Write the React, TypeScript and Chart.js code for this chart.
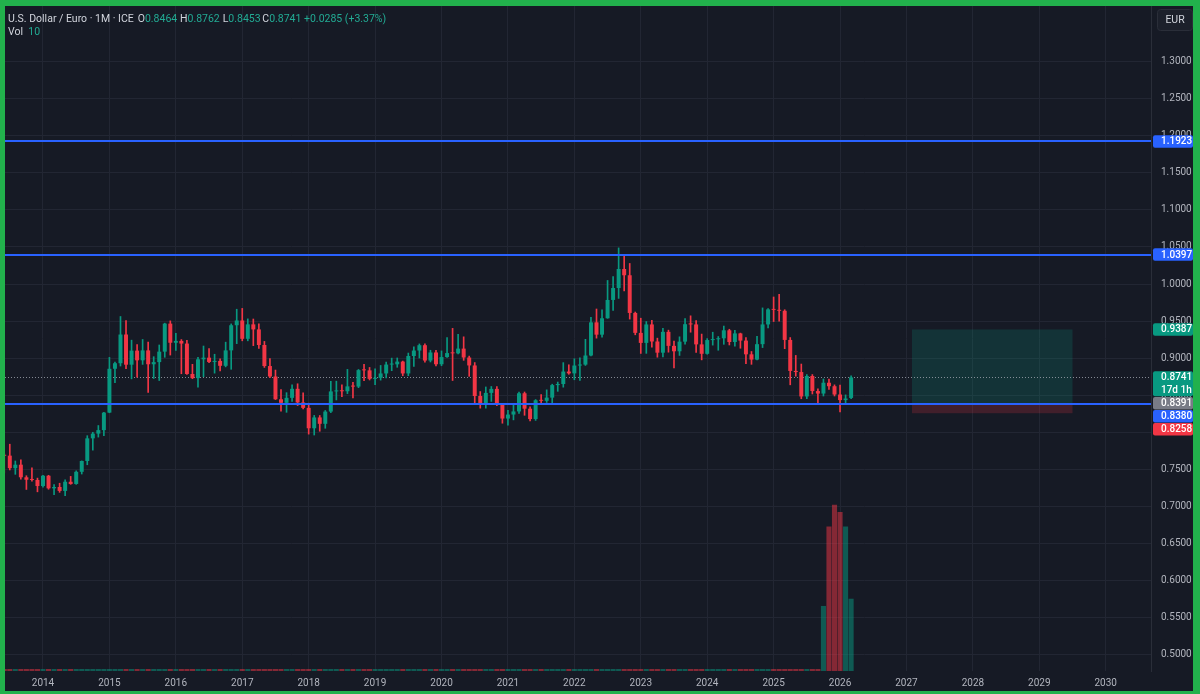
import React, { useEffect, useRef } from "react";
import { Chart, registerables } from "chart.js";

Chart.register(...registerables);

// ---------- DATA ----------
// Monthly candles of USD/EUR, June 2013 … March 2026. Month index 0 = Jan 2014.
const FIRST_MONTH_INDEX = -7;

const OPEN = [
  0.7693, 0.7686, 0.7517, 0.7564, 0.7394, 0.7361, 0.7358,
  0.7276, 0.7415, 0.7245, 0.7263, 0.7210, 0.7334, 0.7304, 0.7468, 0.7614, 0.7919, 0.7983, 0.8030,
  0.8266, 0.8857, 0.8932, 0.9319, 0.8912, 0.9102, 0.8971, 0.9105, 0.8918, 0.8947, 0.9088, 0.9466,
  0.9208, 0.9233, 0.9197, 0.8787, 0.8731, 0.8985, 0.9007, 0.8949, 0.8963, 0.8897, 0.9105, 0.9444,
  0.9508, 0.9261, 0.9456, 0.9388, 0.9178, 0.8894, 0.8753, 0.8446, 0.8398, 0.8465, 0.8587, 0.8403,
  0.8330, 0.8055, 0.8201, 0.8115, 0.8280, 0.8552, 0.8559, 0.8554, 0.8620, 0.8617, 0.8839, 0.8836,
  0.8721, 0.8735, 0.8794, 0.8914, 0.8917, 0.8954, 0.8794, 0.9029, 0.9103, 0.9175, 0.8968, 0.9077,
  0.8918, 0.9015, 0.9069, 0.9065, 0.9129, 0.9009, 0.8902, 0.8490, 0.8378, 0.8532, 0.8586, 0.8384,
  0.8186, 0.8240, 0.8282, 0.8527, 0.8319, 0.8179, 0.8433, 0.8425, 0.8468, 0.8637, 0.8652, 0.8820,
  0.8795, 0.8901, 0.8913, 0.9036, 0.9483, 0.9317, 0.9538, 0.9785, 0.9946, 1.0202, 1.0118, 0.9610,
  0.9341, 0.9206, 0.9455, 0.9225, 0.9074, 0.9355, 0.9166, 0.9093, 0.9223, 0.9458, 0.9455, 0.9186,
  0.9059, 0.9244, 0.9255, 0.9268, 0.9376, 0.9218, 0.9334, 0.9237, 0.9052, 0.8981, 0.9189, 0.9455,
  0.9658, 0.9651, 0.9639, 0.9246, 0.8828, 0.8813, 0.8484, 0.8760, 0.8557, 0.8523, 0.8669, 0.8622,
  0.8510, 0.8435, 0.8464,
];

const HIGH = [
  0.7719, 0.7840, 0.7614, 0.7631, 0.7415, 0.7521, 0.7383,
  0.7419, 0.7421, 0.7297, 0.7314, 0.7359, 0.7406, 0.7481, 0.7615, 0.7955, 0.8001, 0.8092, 0.8270,
  0.9011, 0.8949, 0.9562, 0.9506, 0.9243, 0.9185, 0.9252, 0.9217, 0.9020, 0.9178, 0.9472, 0.9503,
  0.9336, 0.9251, 0.9240, 0.8917, 0.9011, 0.9164, 0.9131, 0.9053, 0.8991, 0.9216, 0.9462, 0.9660,
  0.9671, 0.9530, 0.9528, 0.9462, 0.9226, 0.8994, 0.8840, 0.8575, 0.8535, 0.8640, 0.8655, 0.8534,
  0.8393, 0.8228, 0.8227, 0.8295, 0.8688, 0.8690, 0.8639, 0.8849, 0.8676, 0.8848, 0.8916, 0.8875,
  0.8858, 0.8902, 0.8948, 0.9001, 0.9003, 0.8961, 0.9069, 0.9152, 0.9192, 0.9192, 0.9107, 0.9107,
  0.9098, 0.9278, 0.9402, 0.9322, 0.9288, 0.9028, 0.8941, 0.8550, 0.8612, 0.8618, 0.8618, 0.8386,
  0.8296, 0.8367, 0.8544, 0.8544, 0.8343, 0.8442, 0.8509, 0.8573, 0.8649, 0.8678, 0.8940, 0.8911,
  0.8992, 0.9004, 0.9254, 0.9551, 0.9663, 0.9653, 1.0048, 1.0100, 1.0487, 1.0382, 1.0277, 0.9622,
  0.9539, 0.9494, 0.9509, 0.9270, 0.9403, 0.9378, 0.9230, 0.9288, 0.9535, 0.9571, 0.9508, 0.9325,
  0.9264, 0.9350, 0.9292, 0.9433, 0.9390, 0.9374, 0.9338, 0.9279, 0.9090, 0.9293, 0.9678, 0.9668,
  0.9825, 0.9861, 0.9653, 0.9278, 0.9037, 0.8921, 0.8778, 0.8779, 0.8587, 0.8720, 0.8719, 0.8640,
  0.8636, 0.8505, 0.8762,
];

const LOW = [
  0.7454, 0.7493, 0.7434, 0.7370, 0.7230, 0.7342, 0.7198,
  0.7260, 0.7233, 0.7160, 0.7191, 0.7146, 0.7299, 0.7299, 0.7438, 0.7563, 0.7760, 0.7936, 0.7955,
  0.8264, 0.8670, 0.8894, 0.8857, 0.8721, 0.8744, 0.8916, 0.8537, 0.8726, 0.8699, 0.9012, 0.9042,
  0.9103, 0.8790, 0.8781, 0.8723, 0.8609, 0.8750, 0.8940, 0.8798, 0.8828, 0.8883, 0.8850, 0.9196,
  0.9234, 0.9234, 0.9169, 0.9132, 0.8875, 0.8737, 0.8442, 0.8285, 0.8270, 0.8418, 0.8361, 0.8317,
  0.7976, 0.7964, 0.8015, 0.8055, 0.8266, 0.8437, 0.8481, 0.8522, 0.8464, 0.8602, 0.8696, 0.8706,
  0.8643, 0.8704, 0.8735, 0.8831, 0.8877, 0.8763, 0.8763, 0.8890, 0.9002, 0.8945, 0.8949, 0.8897,
  0.8898, 0.9011, 0.8699, 0.9058, 0.8971, 0.8755, 0.8397, 0.8326, 0.8326, 0.8417, 0.8358, 0.8123,
  0.8098, 0.8168, 0.8256, 0.8230, 0.8153, 0.8161, 0.8397, 0.8403, 0.8397, 0.8553, 0.8609, 0.8783,
  0.8709, 0.8699, 0.8902, 0.9029, 0.9270, 0.9282, 0.9537, 0.9645, 0.9806, 0.9907, 0.9527, 0.9315,
  0.9064, 0.9065, 0.9149, 0.9013, 0.9016, 0.9081, 0.8868, 0.9037, 0.9189, 0.9350, 0.9077, 0.8977,
  0.9053, 0.9176, 0.9107, 0.9187, 0.9178, 0.9161, 0.9134, 0.8927, 0.8917, 0.8977, 0.9143, 0.9407,
  0.9494, 0.9498, 0.9128, 0.8641, 0.8757, 0.8453, 0.8453, 0.8517, 0.8391, 0.8490, 0.8580, 0.8490,
  0.8277, 0.8395, 0.8453,
];

const CLOSE = [
  0.7686, 0.7517, 0.7564, 0.7394, 0.7361, 0.7358, 0.7276,
  0.7415, 0.7245, 0.7263, 0.7210, 0.7334, 0.7304, 0.7468, 0.7614, 0.7919, 0.7983, 0.8030, 0.8266,
  0.8857, 0.8932, 0.9319, 0.8912, 0.9102, 0.8971, 0.9105, 0.8918, 0.8947, 0.9088, 0.9466, 0.9208,
  0.9233, 0.9197, 0.8787, 0.8731, 0.8985, 0.9007, 0.8949, 0.8963, 0.8897, 0.9105, 0.9444, 0.9508,
  0.9261, 0.9456, 0.9388, 0.9178, 0.8894, 0.8753, 0.8446, 0.8398, 0.8465, 0.8587, 0.8403, 0.8330,
  0.8055, 0.8201, 0.8115, 0.8280, 0.8552, 0.8559, 0.8554, 0.8620, 0.8617, 0.8839, 0.8836, 0.8721,
  0.8735, 0.8794, 0.8914, 0.8917, 0.8954, 0.8794, 0.9029, 0.9103, 0.9175, 0.8968, 0.9077, 0.8918,
  0.9015, 0.9069, 0.9065, 0.9129, 0.9009, 0.8902, 0.8490, 0.8378, 0.8532, 0.8586, 0.8384, 0.8186,
  0.8240, 0.8282, 0.8527, 0.8319, 0.8179, 0.8433, 0.8425, 0.8468, 0.8637, 0.8652, 0.8820, 0.8795,
  0.8901, 0.8913, 0.9036, 0.9483, 0.9317, 0.9538, 0.9785, 0.9946, 1.0202, 1.0118, 0.9610, 0.9341,
  0.9206, 0.9455, 0.9225, 0.9074, 0.9355, 0.9166, 0.9093, 0.9223, 0.9458, 0.9455, 0.9186, 0.9059,
  0.9244, 0.9255, 0.9268, 0.9376, 0.9218, 0.9334, 0.9237, 0.9052, 0.8981, 0.9189, 0.9455, 0.9658,
  0.9651, 0.9639, 0.9246, 0.8828, 0.8813, 0.8484, 0.8760, 0.8557, 0.8523, 0.8669, 0.8622, 0.8510,
  0.8435, 0.8456, 0.8741,
];

// Volume (only the last months carry volume on this feed; others are 0)
const VOLUME_MONTH_INDEX = [141, 142, 143, 144, 145, 146];
const VOLUME = [9, 20, 23, 22, 20, 10];

// Axis ticks
const YEAR_TICKS = [0, 12, 24, 36, 48, 60, 72, 84, 96, 108, 120, 132, 144, 156, 168, 180, 192];
const YEAR_LABELS = ["2014", "2015", "2016", "2017", "2018", "2019", "2020", "2021", "2022", "2023", "2024", "2025", "2026", "2027", "2028", "2029", "2030"];
const PRICE_TICKS = [0.5, 0.55, 0.6, 0.65, 0.7, 0.75, 0.8, 0.85, 0.9, 0.95, 1.0, 1.05, 1.1, 1.15, 1.2, 1.25, 1.3];

// Horizontal levels and the long-position tool
const LEVELS = [1.1923, 1.0397, 0.838];
const POS_START = 157;
const POS_END = 186;
const POS_TARGET = 0.9387;
const POS_ENTRY = 0.8391;
const POS_STOP = 0.8258;
const LAST_PRICE = 0.8741;
const COUNTDOWN = "17d 1h";

// Header texts
const TITLE = "U.S. Dollar / Euro · 1M · ICE";
const OHLC_LABELS = ["O", "H", "L", "C"];
const OHLC_VALUES = ["0.8464", "0.8762", "0.8453", "0.8741"];
const CHANGE_TEXT = "+0.0285 (+3.37%)";
const VOL_TEXT = "10";

// ---------- STYLE ----------
const X_MIN = -6.865;
const X_MAX = 200.18;
const Y_MIN = 0.47823;
const Y_MAX = 1.37483;
const VOL_MAX = 92;

const BG = "#161a25";
const GREEN_FRAME = "#22b14c";
const GRID = "#222633";
const TEXT = "#b2b5be";
const UP = "#089981";
const DOWN = "#f23645";
const UP_VOL = "rgba(8,153,129,0.5)";
const DOWN_VOL = "rgba(242,54,69,0.5)";
const BLUE = "#2962ff";
const GRAY_LABEL = "#787b86";
const FONT = "Roboto, 'Noto Sans', sans-serif";

const monthX = (i: number) => FIRST_MONTH_INDEX + i;
const isUp = (i: number) => CLOSE[i] >= OPEN[i];

const overlayPlugin = {
  id: "overlay",
  beforeDatasetsDraw(chart: any) {
    const { ctx, chartArea: a, scales } = chart;
    const xs = scales.x;
    const ys = scales.y;
    ctx.save();
    ctx.beginPath();
    ctx.rect(a.left, a.top, a.right - a.left, a.bottom - a.top);
    ctx.clip();
    // position tool
    const x0 = xs.getPixelForValue(POS_START);
    const x1 = xs.getPixelForValue(POS_END);
    const yT = ys.getPixelForValue(POS_TARGET);
    const yE = ys.getPixelForValue(POS_ENTRY);
    const yS = ys.getPixelForValue(POS_STOP);
    ctx.fillStyle = "rgba(8,153,129,0.2)";
    ctx.fillRect(x0, yT, x1 - x0, yE - yT);
    ctx.fillStyle = "rgba(242,54,69,0.2)";
    ctx.fillRect(x0, yE, x1 - x0, yS - yE);
    ctx.strokeStyle = "rgba(190,190,200,0.7)";
    ctx.lineWidth = 1;
    ctx.beginPath();
    ctx.moveTo(x0, Math.round(yE) + 0.5);
    ctx.lineTo(x1, Math.round(yE) + 0.5);
    ctx.stroke();
    // last price dotted line
    const yL = Math.round(ys.getPixelForValue(LAST_PRICE)) + 0.5;
    ctx.setLineDash([1, 2]);
    ctx.strokeStyle = "rgba(160,165,175,0.8)";
    ctx.beginPath();
    ctx.moveTo(a.left, yL);
    ctx.lineTo(a.right, yL);
    ctx.stroke();
    ctx.restore();
  },
  afterDatasetsDraw(chart: any) {
    const { ctx, chartArea: a, scales } = chart;
    ctx.save();
    ctx.strokeStyle = BLUE;
    ctx.lineWidth = 2;
    LEVELS.forEach((p) => {
      const y = Math.round(scales.y.getPixelForValue(p));
      ctx.beginPath();
      ctx.moveTo(a.left, y);
      ctx.lineTo(a.right, y);
      ctx.stroke();
    });
    ctx.restore();
  },
  afterDraw(chart: any) {
    const { ctx, chartArea: a, scales, width } = chart;
    const ys = scales.y;
    ctx.save();
    // price-scale labels
    const labels = [
      { p: LEVELS[0], c: BLUE, lines: [LEVELS[0].toFixed(4)] },
      { p: LEVELS[1], c: BLUE, lines: [LEVELS[1].toFixed(4)] },
      { p: POS_TARGET, c: UP, lines: [POS_TARGET.toFixed(4)] },
      { p: LAST_PRICE, c: UP, lines: [LAST_PRICE.toFixed(4), COUNTDOWN] },
      { p: POS_ENTRY, c: GRAY_LABEL, lines: [POS_ENTRY.toFixed(4)] },
      { p: LEVELS[2], c: BLUE, lines: [LEVELS[2].toFixed(4)] },
      { p: POS_STOP, c: DOWN, lines: [POS_STOP.toFixed(4)] },
    ];
    const LH = 12.5;
    let prevBottom = -Infinity;
    ctx.font = `500 10px ${FONT}`;
    ctx.textBaseline = "middle";
    ctx.textAlign = "left";
    labels.forEach((l) => {
      const py = ys.getPixelForValue(l.p);
      let top = py - LH / 2;
      if (top < prevBottom + 0.5) top = prevBottom + 0.5;
      const h = LH * l.lines.length;
      ctx.fillStyle = l.c;
      ctx.beginPath();
      ctx.roundRect(a.right + 2, top, width - a.right - 2, h, 2);
      ctx.fill();
      ctx.fillStyle = "#ffffff";
      l.lines.forEach((t, k) => {
        ctx.fillText(t, a.right + 10, top + LH / 2 + k * LH + 0.5);
      });
      prevBottom = top + h;
    });

    // header legend
    ctx.font = `10.5px ${FONT}`;
    ctx.fillStyle = "#d1d4dc";
    ctx.fillText(TITLE, 3, 13);
    const starts = [132.7, 175, 217.7, 257.3];
    OHLC_LABELS.forEach((lab, k) => {
      ctx.fillStyle = "#d1d4dc";
      ctx.fillText(lab, starts[k], 13);
      const w = ctx.measureText(lab).width;
      ctx.fillStyle = "#22ab94";
      ctx.fillText(OHLC_VALUES[k], starts[k] + w, 13);
    });
    ctx.fillStyle = "#22ab94";
    ctx.fillText(CHANGE_TEXT, 299, 13);
    ctx.fillStyle = "#d1d4dc";
    ctx.fillText("Vol", 3, 26);
    ctx.fillStyle = "#22ab94";
    ctx.fillText(VOL_TEXT, 23.3, 26);

    // currency button
    ctx.fillStyle = "#1c202b";
    ctx.strokeStyle = "#2a2e39";
    ctx.lineWidth = 1;
    ctx.beginPath();
    ctx.roundRect(1152.5, 3.5, 35, 21, 3);
    ctx.fill();
    ctx.stroke();
    ctx.fillStyle = "#d1d4dc";
    ctx.textAlign = "center";
    ctx.font = `10.5px ${FONT}`;
    ctx.fillText("EUR", 1170, 14.5);
    ctx.restore();
  },
};

export default function App() {
  const ref = useRef<HTMLCanvasElement>(null);

  useEffect(() => {
    const n = OPEN.length;
    const idx = Array.from({ length: n }, (_, i) => i);
    const volumeFor = (i: number) => {
      const k = VOLUME_MONTH_INDEX.indexOf(monthX(i));
      return k >= 0 ? VOLUME[k] : 0;
    };

    const chart = new Chart(ref.current as HTMLCanvasElement, {
      type: "bar",
      data: {
        datasets: [
          {
            label: "Volume",
            yAxisID: "yv",
            data: idx.map((i) => ({ x: monthX(i), y: volumeFor(i) })),
            backgroundColor: idx.map((i) => (isUp(i) ? UP_VOL : DOWN_VOL)),
            barPercentage: 0.92,
            categoryPercentage: 1,
            grouped: false,
            minBarLength: 2,
            borderWidth: 0,
            clip: 0,
            order: 3,
          } as any,
          {
            label: "Wicks",
            yAxisID: "y",
            data: idx.map((i) => ({ x: monthX(i), y: [LOW[i], HIGH[i]] })),
            backgroundColor: idx.map((i) => (isUp(i) ? UP : DOWN)),
            barThickness: 1,
            grouped: false,
            borderWidth: 0,
            clip: 0,
            order: 2,
          } as any,
          {
            label: "Bodies",
            yAxisID: "y",
            data: idx.map((i) => ({ x: monthX(i), y: [OPEN[i], CLOSE[i]] })),
            backgroundColor: idx.map((i) => (isUp(i) ? UP : DOWN)),
            barPercentage: 0.72,
            categoryPercentage: 1,
            grouped: false,
            minBarLength: 1,
            borderWidth: 0,
            clip: 0,
            order: 1,
          } as any,
        ],
      },
      options: {
        responsive: false,
        animation: false,
        devicePixelRatio: 1,
        events: [],
        layout: { padding: 0 },
        plugins: { legend: { display: false }, tooltip: { enabled: false } },
        scales: {
          x: {
            type: "linear",
            position: "bottom",
            min: X_MIN,
            max: X_MAX,
            offset: false,
            grid: { color: GRID, drawTicks: false, offset: false },
            border: { display: false },
            ticks: {
              color: TEXT,
              font: { family: FONT, size: 10 },
              padding: 6,
              maxRotation: 0,
              autoSkip: false,
              callback: (v: any) => YEAR_LABELS[YEAR_TICKS.indexOf(Number(v))] ?? "",
            },
            afterBuildTicks: (s: any) => {
              s.ticks = YEAR_TICKS.map((v) => ({ value: v }));
            },
            afterFit: (s: any) => {
              s.height = 20;
              s.paddingLeft = 0;
              s.paddingRight = 0;
            },
          },
          y: {
            type: "linear",
            position: "right",
            min: Y_MIN,
            max: Y_MAX,
            grid: { color: GRID, drawTicks: false },
            border: { display: true, color: "#2a2e39" },
            ticks: {
              color: TEXT,
              font: { family: FONT, size: 10 },
              padding: 10,
              callback: (v: any) => Number(v).toFixed(4),
            },
            afterBuildTicks: (s: any) => {
              s.ticks = PRICE_TICKS.map((v) => ({ value: v }));
            },
            afterFit: (s: any) => {
              s.width = 42;
              s.paddingTop = 0;
              s.paddingBottom = 0;
            },
          },
          yv: {
            type: "linear",
            display: false,
            min: 0,
            max: VOL_MAX,
          },
        },
      } as any,
      plugins: [overlayPlugin],
    });
    return () => chart.destroy();
  }, []);

  return (
    <div style={{ position: "absolute", left: 0, top: 0, width: 1200, height: 694, background: GREEN_FRAME }}>
      <div style={{ position: "absolute", left: 5, top: 6, width: 1188, height: 685, background: BG }}>
        <canvas ref={ref} width={1188} height={685} style={{ display: "block", width: 1188, height: 685 }} />
      </div>
    </div>
  );
}
